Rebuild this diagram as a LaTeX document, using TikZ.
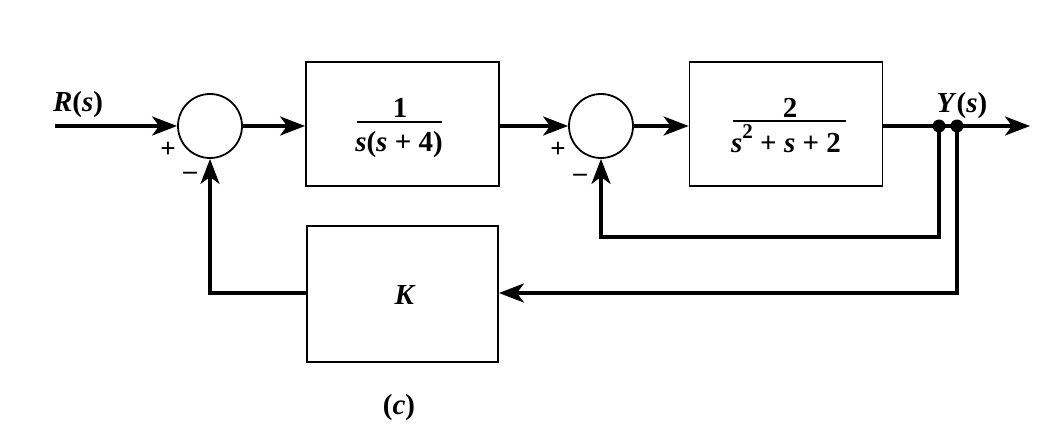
\documentclass[tikz,border=0pt]{standalone}
\usepackage{fontspec}
\setmainfont{Liberation Serif}
\usetikzlibrary{arrows.meta}
\tikzset{
  sig/.style={line width=3.6pt, line join=miter},
  sigarrow/.style={sig, -{Stealth[length=25pt,width=19pt,inset=7pt]}},
  blockbox/.style={draw, line width=1.8pt, minimum width=193pt, minimum height=124pt, inner sep=0pt},
  sumjunc/.style={draw, circle, line width=1.8pt, minimum size=64pt, inner sep=0pt},
  lbl/.style={font=\fontsize{29}{31}\selectfont\bfseries, inner sep=0pt},
  sgn/.style={font=\fontsize{27}{29}\selectfont\bfseries, inner sep=0pt},
  dotnode/.style={circle, fill=black, minimum size=13pt, inner sep=0pt}
}
\newcommand{\bi}[1]{\textit{#1}}
\begin{document}
\begin{tikzpicture}[x=1pt,y=-1pt]
\useasboundingbox (0,0) rectangle (1062,438);
% nodes
\coordinate (in) at (55,126);
\node[lbl] (Rlab) at (78,105) {\bi{R}(\bi{s})};
\node[sumjunc] (s1) at (210,126) {};
\node[blockbox] (b1) at (402.5,124) {};
\node[sumjunc] (s2) at (601,126) {};
\node[blockbox] (b2) at (786,124) {};
\node[blockbox, minimum width=191pt, minimum height=136pt] (k) at (402.5,294) {};
\node[lbl] (Klab) at (405,295) {\bi{K}};
\node[dotnode] (d1) at (939,126) {};
\node[dotnode] (d2) at (957,126) {};
\coordinate (out) at (1030,126);
\node[lbl] (Ylab) at (962,106) {\bi{Y}(\bi{s})};
\node[lbl] (clab) at (399,408) {(\bi{c})};
% signs
\node[sgn] (p1) at (168,150) {+};
\node[sgn] (m1) at (190,176) {\textendash};
\node[sgn] (p2) at (558,150) {+};
\node[sgn] (m2) at (580,178) {\textendash};
% fraction 1
\node[lbl, anchor=base] (n1) at (400,118) {1};
\node[lbl, anchor=base] (den1) at (399,152) {\bi{s}(\bi{s} + 4)};
\coordinate (f1a) at (357,122);
\coordinate (f1b) at (442,122);
\draw[line width=1.6pt] (f1a) -- (f1b);
% fraction 2
\node[lbl, anchor=base] (n2) at (790,118) {2};
\node[lbl, anchor=base] (den2) at (786,153) {\bi{s}\raisebox{0.5em}{\fontsize{21}{23}\selectfont 2} + \bi{s} + 2};
\coordinate (f2a) at (733,121);
\coordinate (f2b) at (846,121);
\draw[line width=1.6pt] (f2a) -- (f2b);
% forward path
\draw[sigarrow] (in) -- (s1.west);
\draw[sigarrow] (s1.east) -- (s1.east -| b1.west);
\draw[sigarrow] (s2.west -| b1.east) -- (s2.west);
\draw[sigarrow] (s2.east) -- (s2.east -| b2.west);
\draw[sigarrow] (d1.center -| b2.east) -- (out);
% inner feedback
\coordinate (c1) at (939,237);
\coordinate (c2) at (601,237);
\draw[sigarrow] (d1.center) -- (c1) -- (c2) -- (s2.south);
% outer feedback
\coordinate (c3) at (957,293);
\draw[sigarrow] (d2.center) -- (c3) -- (k.east |- c3);
\coordinate (c4) at (210,293);
\draw[sigarrow] (k.west |- c4) -- (c4) -- (s1.south);
\end{tikzpicture}
\end{document}
